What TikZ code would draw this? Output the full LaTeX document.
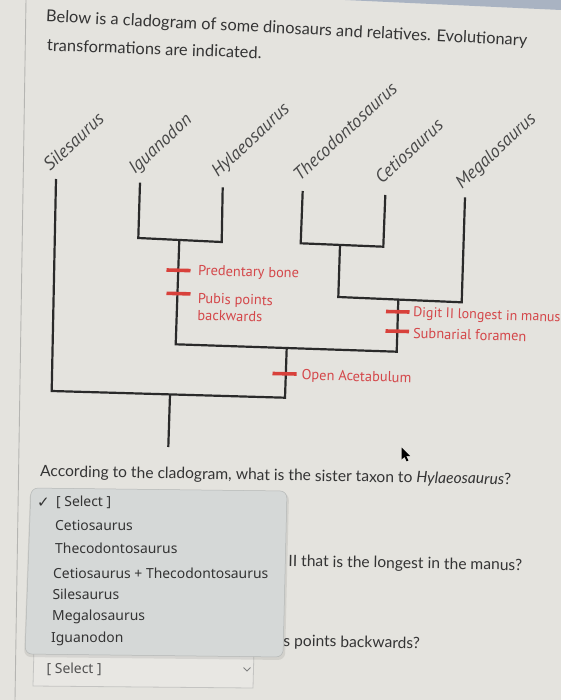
\documentclass[tikz,border=0pt]{standalone}
\usepackage{fontspec}
\setmainfont{Lato}
\newfontfamily\cladofont{PT Sans}
\newfontfamily\menufont{Noto Sans}
\definecolor{bg}{HTML}{E4E3DE}
\definecolor{ink}{HTML}{343434}
\definecolor{cline}{HTML}{2A2A2A}
\definecolor{tickred}{HTML}{D8413B}
\definecolor{redtxt}{HTML}{D4474A}
\definecolor{panel}{HTML}{D5D8D7}
\definecolor{boxfill}{HTML}{E8E7E3}
\definecolor{boxline}{HTML}{C4C4C2}
\definecolor{edge}{HTML}{B5B5B2}
\definecolor{bluestrip}{HTML}{A9B3C2}
\begin{document}
\begin{tikzpicture}[x=1pt,y=-1pt,
  branch/.style={draw=cline, line width=2.2pt, line join=miter},
  trait/.style={draw=tickred, line width=3.6pt},
  taxon/.style={font=\cladofont\itshape\fontsize{18.2}{20}\selectfont, text=ink!90, anchor=base west, inner sep=0pt, rotate=43},
  traittxt/.style={font=\cladofont\fontsize{14.4}{16.7}\selectfont, text=redtxt, anchor=west, inner sep=0pt, align=left},
  lato/.style={font=\fontsize{16.4}{19}\selectfont, text=ink, anchor=west, inner sep=0pt},
  quest/.style={font=\fontsize{15.6}{18}\selectfont, text=ink, anchor=west, inner sep=0pt},
  menuitem/.style={font=\menufont\fontsize{13.9}{16}\selectfont, text=ink, anchor=west, inner sep=0pt}]
\useasboundingbox (0,0) rectangle (561,700);
\fill[bg] (0,0) rectangle (561,700);
% page edges
\fill[bluestrip] (345,0) -- (561,0) -- (561,10) -- cycle;
\draw[edge, line width=0.9pt] (26,0) -- (15,700);

% title
\node[lato, rotate=-2.9] (title1) at (46,17) {Below is a cladogram of some dinosaurs and relatives. Evolutionary};
\node[lato, rotate=-2.0] (title2) at (47,45) {transformations are indicated.};

% taxon labels
\node[taxon] (lsil) at (50,172) {Silesaurus};
\node[taxon] (lig) at (135,175) {Iguanodon};
\node[taxon] (lhy) at (218,178) {Hylaeosaurus};
\node[taxon] (lth) at (300,182) {Thecodontosaurus};
\node[taxon] (lce) at (382,185) {Cetiosaurus};
\node[taxon] (lmeg) at (462,190) {Megalosaurus};

% tree coordinates
\coordinate (sil) at (56,179);   \coordinate (silb) at (51.7,391);
\coordinate (ig) at (140,182.7); \coordinate (igb) at (138.3,238);
\coordinate (hy) at (222.7,187.3); \coordinate (hyb) at (221.7,242);
\coordinate (orns) at (179.3,240); \coordinate (ornb) at (175.7,344.3);
\coordinate (th) at (302.7,191); \coordinate (thb) at (300.7,243.3);
\coordinate (ce) at (385.3,195); \coordinate (ceb) at (383.3,246.7);
\coordinate (tcs) at (340,244.9); \coordinate (tcb) at (338.3,297);
\coordinate (meg) at (465,197.3); \coordinate (megb) at (461.7,302.3);
\coordinate (saus) at (398.3,299.6); \coordinate (saub) at (396.7,351.7);
\coordinate (dinos) at (286.7,348); \coordinate (dinob) at (285,397.7);
\coordinate (roott) at (170,394.4); \coordinate (rootb) at (168.3,447);

\draw[branch] (ig) -- (igb) -- (hyb) -- (hy);
\draw[branch] (th) -- (thb) -- (ceb) -- (ce);
\draw[branch] (tcs) -- (tcb) -- (megb) -- (meg);
\draw[branch] (orns) -- (ornb) -- (saub) -- (saus);
\draw[branch] (sil) -- (silb) -- (dinob) -- (dinos);
\draw[branch] (roott) -- (rootb);

% trait ticks
\coordinate (t1a) at (166.5,270); \coordinate (t1b) at (190.5,270.6);
\coordinate (t2a) at (166.5,293.3); \coordinate (t2b) at (190.5,293.9);
\coordinate (t3a) at (386,311.5); \coordinate (t3b) at (409.5,312);
\coordinate (t4a) at (385.5,331); \coordinate (t4b) at (409,331.5);
\coordinate (t5a) at (272.5,373.5); \coordinate (t5b) at (296.7,374);
\draw[trait] (t1a) -- (t1b);
\draw[trait] (t2a) -- (t2b);
\draw[trait] (t3a) -- (t3b);
\draw[trait] (t4a) -- (t4b);
\draw[trait] (t5a) -- (t5b);

\node[traittxt, rotate=-1.5] (predent) at (198,271.7) {Predentary bone};
\node[traittxt, rotate=-1.5] (pubis) at (197.5,306.7) {Pubis points\\backwards};
\node[traittxt, rotate=-2, font=\cladofont\fontsize{14}{16.7}\selectfont] (digit) at (413,313.3) {Digit II longest in manus};
\node[traittxt, rotate=-1.5] (subnar) at (413,333.3) {Subnarial foramen};
\node[traittxt, rotate=-1.5] (openac) at (301.5,376) {Open Acetabulum};

% cursor
\fill[black] (401.7,447.5) -- (401.7,459.5) -- (404.5,456.8) -- (406.6,461.3) -- (408.4,460.5) -- (406.3,456.1) -- (410.2,456.1) -- cycle;

% questions
\node[quest, rotate=-1] (q1) at (40,472) {According to the cladogram, what is the sister taxon to \textit{Hylaeosaurus}?};
\node[quest, rotate=-1] (q2) at (288.3,562) {II that is the longest in the manus?};
\node[quest, rotate=-1] (q3) at (283.3,641.7) {s points backwards?};

% select box under the menu
\draw[boxline, fill=boxfill, line width=0.8pt] (34,648) -- (254,650) -- (253,688) -- (33,686) -- cycle;
\node[menuitem, text=ink!85] (sel2) at (46.5,669.3) {[ Select ]};
\draw[gray, line width=0.8pt] (243.5,667.5) coordinate (cva) -- (247,671) coordinate (cvb) -- (250.5,667.5) coordinate (cvc);

% dropdown menu
\fill[black, opacity=0.08, rounded corners=7pt] (30,490) -- (289,493) -- (285,660) -- (24,657) -- cycle;
\draw[panel!85!black, fill=panel, line width=0.5pt, rounded corners=7pt] (31,488) -- (287,491) -- (283,657) -- (25,654) -- cycle;
\node[menuitem] (chk) at (37,502.3) {\fontspec{DejaVu Sans}\fontsize{15}{16}\selectfont ✓};
\node[menuitem] (m0) at (56,502.3) {[ Select ]};
\node[menuitem] (m1) at (55,525.7) {Cetiosaurus};
\node[menuitem] (m2) at (55,548.3) {Thecodontosaurus};
\node[menuitem] (m3) at (53,573.3) {Cetiosaurus + Thecodontosaurus};
\node[menuitem] (m4) at (52.3,594) {Silesaurus};
\node[menuitem] (m5) at (52,616.7) {Megalosaurus};
\node[menuitem] (m6) at (51,639.3) {Iguanodon};
\end{tikzpicture}
\end{document}
